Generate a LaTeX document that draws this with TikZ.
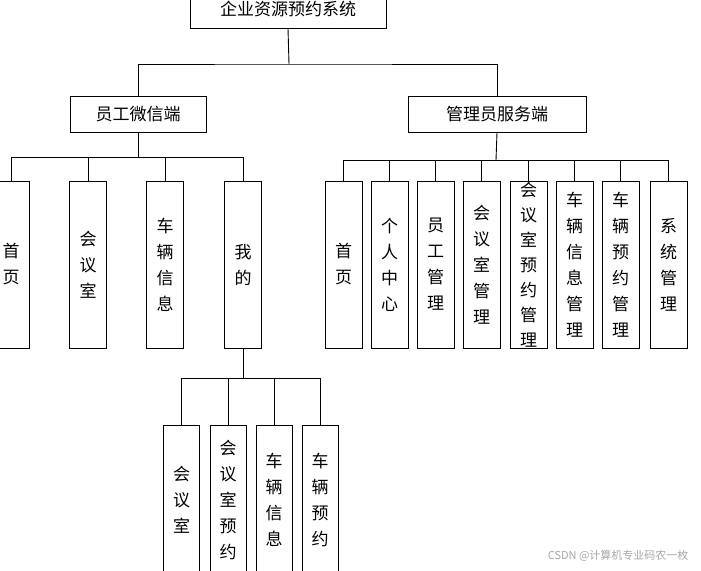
\documentclass[tikz,border=0pt]{standalone}
\usepackage{fontspec}
\newfontfamily\cjk{Noto Sans CJK SC}
\begin{document}
\begin{tikzpicture}[x=1pt,y=-1pt,
  bx/.style={draw,line width=0.9pt,inner sep=0pt,font=\cjk\fontsize{17}{20}\selectfont},
  vb/.style={draw,line width=0.9pt,inner sep=0pt,align=center,font=\cjk\fontsize{17}{26}\selectfont},
  ln/.style={line width=0.9pt}]
\useasboundingbox (0,0) rectangle (701,570);
\node[bx,minimum width=196pt,minimum height=38pt] (root) at (288,9) {企业资源预约系统};
\node[bx,minimum width=136pt,minimum height=36pt] (emp) at (138,114) {员工微信端};
\node[bx,minimum width=178pt,minimum height=36pt] (adm) at (497,114) {管理员服务端};
\coordinate (j0) at (289,64);
\draw[ln] (root.south) -- (j0);
\draw[ln] (emp.north) |- (j0) -| (adm.north);
% employee children
\foreach \n/\x/\t in {e1/11/首\\页, e2/88/会\\议\\室, e3/165/车\\辆\\信\\息, e4/243/我\\的}{
  \node[vb,minimum width=37pt,minimum height=167pt] (\n) at (\x,264.5) {\t};
}
\coordinate (je) at (138,157);
\draw[ln] (emp.south) -- (je);
\foreach \n in {e1,e2,e3,e4}{\draw[ln] (je) -| (\n.north);}
% admin children
\foreach \n/\x/\t in {a1/343.5/首\\页, a2/389.5/个\\人\\中\\心, a3/435.5/员\\工\\管\\理, a4/481.5/会\\议\\室\\管\\理, a6/574.5/车\\辆\\信\\息\\管\\理, a7/620.5/车\\辆\\预\\约\\管\\理, a8/668.5/系\\统\\管\\理}{
  \node[vb,minimum width=37pt,minimum height=167pt] (\n) at (\x,264.5) {\t};
}
\node[vb,minimum width=37pt,minimum height=167pt,font=\cjk\fontsize{17}{25}\selectfont] (a5) at (528.5,264.5) {会\\议\\室\\预\\约\\管\\理};
\coordinate (ja) at (496,160);
\draw[ln] (adm.south) -- (ja);
\foreach \n in {a1,a2,a3,a4,a5,a6,a7,a8}{\draw[ln] (ja) -| (\n.north);}
% my children
\foreach \n/\x/\t in {m1/181.5/会\\议\\室, m2/228/会\\议\\室\\预\\约, m3/274/车\\辆\\信\\息, m4/320/车\\辆\\预\\约}{
  \node[vb,minimum width=36pt,minimum height=150pt] (\n) at (\x,500) {\t};
}
\coordinate (jm) at (243,378);
\draw[ln] (e4.south) -- (jm);
\foreach \n in {m1,m2,m3,m4}{\draw[ln] (jm) -| (\n.north);}
\node[text=black!35,font=\cjk\fontsize{11}{12}\selectfont,anchor=east] (wm) at (692,556) {CSDN @计算机专业码农一枚};
\end{tikzpicture}
\end{document}
